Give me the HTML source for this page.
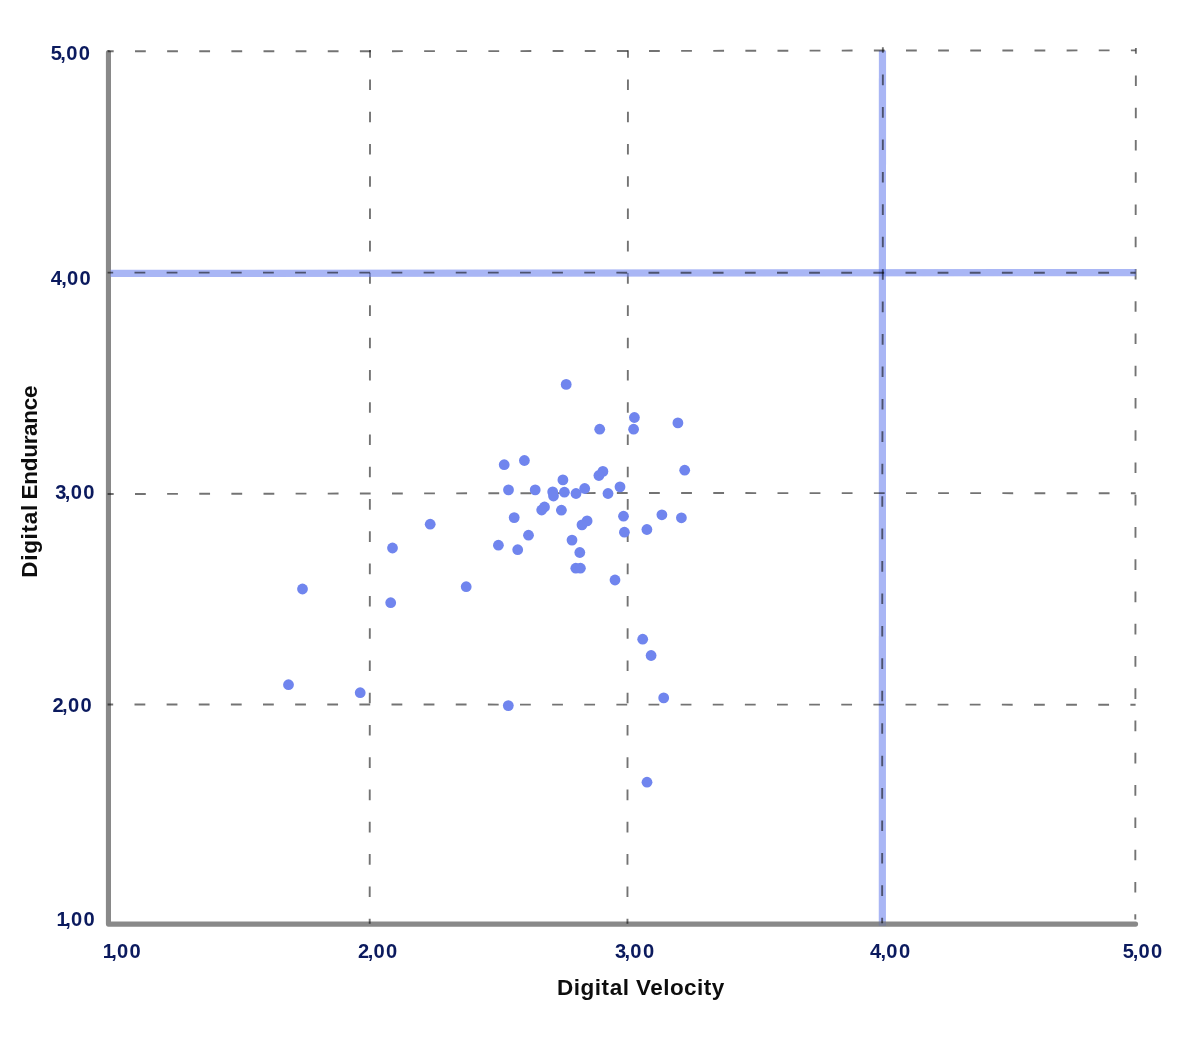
<!DOCTYPE html>
<html lang="en">
<head>
<meta charset="utf-8">
<title>Digital Velocity vs Digital Endurance</title>
<style>
html,body{margin:0;padding:0;background:#fff;}
body{width:1200px;height:1048px;overflow:hidden;font-family:"Liberation Sans",sans-serif;}
svg{display:block;will-change:transform;}
text{font-family:"Liberation Sans",sans-serif;font-weight:bold;}
.tick{font-size:19.3px;fill:#0b1a5e;}
.lab{font-size:22.5px;fill:#0d0d0d;}
.grid{stroke:#000;stroke-opacity:.55;stroke-width:1.9;fill:none;}
.band{stroke:#7085ee;stroke-opacity:.6;stroke-width:7.2;fill:none;}
.axis{stroke:#898989;stroke-width:5.1;stroke-linecap:round;stroke-linejoin:round;fill:none;}
.dot{fill:#7085ee;}
</style>
</head>
<body>
<svg width="1200" height="1048" viewBox="0 0 1200 1048">
<rect width="1200" height="1048" fill="#fff"/>
<path class="axis" d="M108.45 52.6 L108.45 924.1 L1135.6 924.1"/>
<g class="grid">
<path d="M370.05 50 L369.7 923.8" stroke-dasharray="10.6 21.680" stroke-dashoffset="2.880"/>
<path d="M627.96 50.2 L627.8 420 L627.5 780 L627.45 923.8" stroke-dasharray="10.6 21.680" stroke-dashoffset="3.080"/>
<path d="M1135.9 48 L1135.6 272 L1135.3 919.4" stroke-dasharray="10.6 21.660" stroke-dashoffset="4.860"/>
</g>
<g class="band">
<line x1="110.6" y1="273.4" x2="1135.75" y2="272.6"/>
<line x1="882.45" y1="50.5" x2="882.35" y2="921.6"/>
</g>
<rect x="878.75" y="921.55" width="7.2" height="4.2" fill="#7a7f96"/>
<g class="grid">
<path d="M107.6 51.3 L370 51.2 L628 51.0 L882 50.5 L1135.6 50.4" stroke-dasharray="10.8 21.325" stroke-dashoffset="4.72"/>
<path d="M107.6 272.65 L1135.6 272.7" stroke-dasharray="10.8 21.325" stroke-dashoffset="5.22"/>
<path d="M107.6 494.0 L628 493.0 L882 493.15 L1135.6 493.2" stroke-dasharray="10.8 21.325" stroke-dashoffset="4.72"/>
<path d="M107.6 704.5 L1135.6 704.7" stroke-dasharray="10.8 21.325" stroke-dashoffset="5.22"/>
<path d="M882.85 47.2 L882.8 272 L882.3 490 L882.15 923.2" stroke-dasharray="10.6 21.830" stroke-dashoffset="5.030"/>
</g>
<g class="dot">
<circle cx="566.2" cy="384.4" r="5.4"/>
<circle cx="634.4" cy="417.5" r="5.4"/>
<circle cx="633.6" cy="429.2" r="5.4"/>
<circle cx="599.7" cy="429.2" r="5.4"/>
<circle cx="504.2" cy="464.7" r="5.4"/>
<circle cx="524.4" cy="460.5" r="5.4"/>
<circle cx="602.9" cy="471.4" r="5.4"/>
<circle cx="598.9" cy="475.5" r="5.4"/>
<circle cx="562.9" cy="479.9" r="5.4"/>
<circle cx="508.5" cy="489.9" r="5.4"/>
<circle cx="535.2" cy="489.9" r="5.4"/>
<circle cx="552.7" cy="491.9" r="5.4"/>
<circle cx="553.5" cy="496.0" r="5.4"/>
<circle cx="564.4" cy="492.2" r="5.4"/>
<circle cx="576.0" cy="493.5" r="5.4"/>
<circle cx="584.7" cy="488.5" r="5.4"/>
<circle cx="608.0" cy="493.5" r="5.4"/>
<circle cx="620.0" cy="486.9" r="5.4"/>
<circle cx="544.5" cy="507.0" r="5.4"/>
<circle cx="541.7" cy="510.0" r="5.4"/>
<circle cx="561.4" cy="510.2" r="5.4"/>
<circle cx="514.2" cy="517.6" r="5.4"/>
<circle cx="587.1" cy="520.9" r="5.4"/>
<circle cx="582.0" cy="524.9" r="5.4"/>
<circle cx="623.5" cy="516.2" r="5.4"/>
<circle cx="661.9" cy="514.8" r="5.4"/>
<circle cx="646.9" cy="529.5" r="5.4"/>
<circle cx="624.4" cy="532.2" r="5.4"/>
<circle cx="528.5" cy="535.2" r="5.4"/>
<circle cx="572.0" cy="540.1" r="5.4"/>
<circle cx="681.4" cy="517.8" r="5.4"/>
<circle cx="498.4" cy="545.2" r="5.4"/>
<circle cx="517.7" cy="549.7" r="5.4"/>
<circle cx="579.8" cy="552.5" r="5.4"/>
<circle cx="575.8" cy="568.2" r="5.4"/>
<circle cx="580.4" cy="568.2" r="5.4"/>
<circle cx="615.0" cy="580.0" r="5.4"/>
<circle cx="466.2" cy="586.7" r="5.4"/>
<circle cx="642.7" cy="639.2" r="5.4"/>
<circle cx="651.1" cy="655.5" r="5.4"/>
<circle cx="663.7" cy="697.9" r="5.4"/>
<circle cx="508.3" cy="705.6" r="5.4"/>
<circle cx="647.0" cy="782.2" r="5.4"/>
<circle cx="677.9" cy="422.9" r="5.4"/>
<circle cx="684.7" cy="470.2" r="5.4"/>
<circle cx="302.5" cy="589.0" r="5.4"/>
<circle cx="288.5" cy="684.7" r="5.4"/>
<circle cx="360.2" cy="692.7" r="5.4"/>
<circle cx="392.5" cy="548.0" r="5.4"/>
<circle cx="390.7" cy="602.7" r="5.4"/>
<circle cx="430.2" cy="524.2" r="5.4"/>
</g>
<g class="tick">
<text id="y5" transform="translate(0,60.00) scale(1.0435,1)" x="48.75 57.83 63.41 75.53" y="0">5,00</text>
<text id="y4" transform="translate(0,285.00) scale(1.0435,1)" x="48.54 58.59 64.17 76.30" y="0">4,00</text>
<text id="y3" transform="translate(0,498.50) scale(1.0435,1)" x="52.98 62.14 67.72 79.84" y="0">3,00</text>
<text id="y2" transform="translate(0,712.20) scale(1.0435,1)" x="50.41 59.55 65.13 77.25" y="0">2,00</text>
<text id="y1" transform="translate(0,926.20) scale(1.0435,1)" x="54.09 62.43 68.01 80.13" y="0">1,00</text>
<text id="x1" transform="translate(0,958.20) scale(1.0435,1)" x="98.41 106.51 112.09 124.21" y="0">1,00</text>
<text id="x2" transform="translate(0,958.00) scale(1.0435,1)" x="343.08 352.32 357.90 370.02" y="0">2,00</text>
<text id="x3" transform="translate(0,958.10) scale(1.0435,1)" x="589.49 598.51 604.09 616.21" y="0">3,00</text>
<text id="x4" transform="translate(0,958.00) scale(1.0435,1)" x="833.69 843.74 849.32 861.44" y="0">4,00</text>
<text id="x5" transform="translate(0,958.20) scale(1.0435,1)" x="1075.97 1085.43 1091.01 1103.13" y="0">5,00</text>
</g>
<text id="dv" class="lab" transform="translate(0,995)"><tspan x="556.9" letter-spacing="0.55">Digital</tspan> <tspan x="636" letter-spacing="0.45">Velocity</tspan></text>
<text id="de" class="lab" transform="translate(36.5,576.5) rotate(-90)"><tspan x="-1.2" letter-spacing="0.68">Digital</tspan> <tspan x="77" letter-spacing="-0.275">Endurance</tspan></text>
</svg>
</body>
</html>
